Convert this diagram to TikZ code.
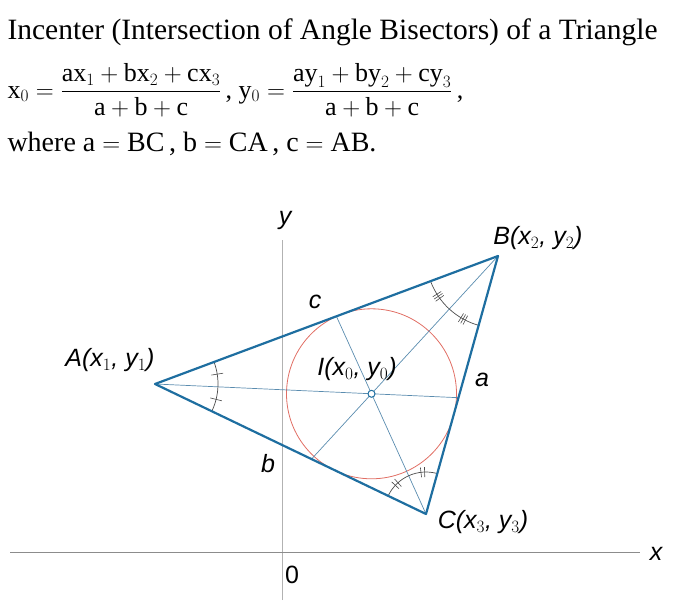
\documentclass[tikz,border=0pt]{standalone}
\usepackage{amsmath}
\usepackage{fontspec}
\setmainfont{Liberation Serif}
\setsansfont{Liberation Sans}
\usetikzlibrary{angles}
\definecolor{tri}{RGB}{30,110,160}
\definecolor{bis}{RGB}{90,140,175}
\definecolor{inc}{RGB}{225,110,100}
\begin{document}
\begin{tikzpicture}[x=1pt,y=1pt,
  lab/.style={font=\sffamily\itshape\fontsize{25}{27}\selectfont, inner sep=1pt},
  tk/.style={draw=black!70, line width=0.6pt}]
\useasboundingbox (0,0) rectangle (685,606);
% header
\node[anchor=west, font=\fontsize{29.5}{32}\selectfont] (title) at (4,574) {Incenter (Intersection of Angle Bisectors) of a Triangle};
\node[anchor=west, font=\fontsize{26}{30}\selectfont] (f) at (4,516) {$\mathrm{x}_0=\dfrac{\mathrm{ax}_1+\mathrm{bx}_2+\mathrm{cx}_3}{\mathrm{a}+\mathrm{b}+\mathrm{c}}$\,, $\mathrm{y}_0=\dfrac{\mathrm{ay}_1+\mathrm{by}_2+\mathrm{cy}_3}{\mathrm{a}+\mathrm{b}+\mathrm{c}}$\,,};
\node[anchor=west, font=\fontsize{28}{32}\selectfont] (w) at (4,462) {where $\mathrm{a}=\mathrm{BC}$\,, $\mathrm{b}=\mathrm{CA}$\,, $\mathrm{c}=\mathrm{AB}$.};
% axes
\coordinate (yb) at (282,6); \coordinate (yt) at (282,366);
\coordinate (xl) at (10,54); \coordinate (xr) at (640,54);
\draw[black!30, line width=0.8pt] (yb) -- (yt);
\draw[black!45, line width=0.8pt] (xl) -- (xr);
\node[lab] (ylab) at (285,386) {y};
\node[lab] (xlab) at (656,52) {x};
\node[font=\sffamily\fontsize{25}{27}\selectfont] (zero) at (292,31) {0};
% points
\coordinate (A) at (155,222);
\coordinate (B) at (498,350);
\coordinate (C) at (426,92);
\coordinate (I) at (371.5,212.2);
\coordinate (D) at (458.5,208.3);
\coordinate (E) at (311.5,146.9);
\coordinate (F) at (336.4,289.7);
\draw[inc, line width=0.8pt] (I) circle (85);
\draw[bis, line width=0.7pt] (A) -- (D) (B) -- (E) (C) -- (F);
% angle arcs
\draw[black!70, line width=0.7pt] ([shift={(-25.6:63)}]A) arc (-25.6:20.5:63);
\foreach \t in {-14.1,9} \draw[tk] ([shift={(\t:57)}]A) -- ([shift={(\t:69)}]A);
\draw[black!70, line width=0.7pt] ([shift={(200.5:72)}]B) arc (200.5:254.4:72);
\foreach \t in {214,241} \foreach \d in {-2,0,2} \draw[tk] ([shift={(\t+\d:67)}]B) -- ([shift={(\t+\d:77)}]B);
\draw[black!70, line width=0.7pt] ([shift={(74.4:42)}]C) arc (74.4:154.4:42);
\foreach \t in {94.4,134.4} \foreach \d in {-2.5,2.5} \draw[tk] ([shift={(\t+\d:37)}]C) -- ([shift={(\t+\d:47)}]C);
% triangle
\draw[tri, line width=2.2pt, line join=round] (A) -- (B) -- (C) -- cycle;
\draw[tri, fill=white, line width=1pt] (I) circle (3.5);
% labels
\node[lab] (Al) at (110,246) {A(x$_1$, y$_1$)};
\node[lab] (Bl) at (538,368) {B(x$_2$, y$_2$)};
\node[lab] (Cl) at (483,84) {C(x$_3$, y$_3$)};
\node[lab] (Il) at (357,237) {I(x$_0$, y$_0$)};
\node[lab] (cl) at (315,304) {c};
\node[lab] (al) at (482,226) {a};
\node[lab] (bl) at (268,142) {b};
\end{tikzpicture}
\end{document}
